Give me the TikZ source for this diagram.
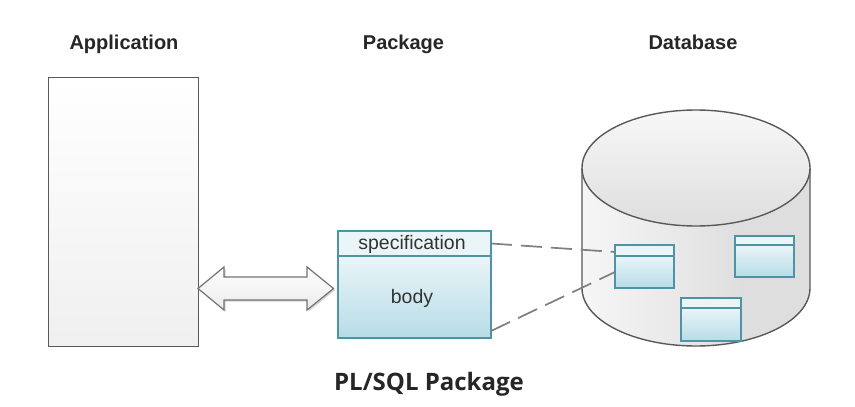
\documentclass[tikz,border=0pt]{standalone}
\usepackage{fontspec}
\setmainfont{Liberation Sans}
\newfontfamily\capfont{Open Sans}
\usetikzlibrary{calc,shadows}
\definecolor{cylA}{HTML}{F6F6F6}
\definecolor{cylB}{HTML}{E6E6E6}
\definecolor{cylC}{HTML}{DEDEDE}
\pgfdeclarehorizontalshading{cylbody}{100bp}{color(0bp)=(cylA); color(25bp)=(cylA); color(50bp)=(cylB); color(60bp)=(cylC); color(100bp)=(cylC)}
\definecolor{boxedge}{HTML}{4F93A6}
\definecolor{boxtop}{HTML}{EAF5F8}
\definecolor{boxlow}{HTML}{B7DCE7}
\definecolor{dashgray}{HTML}{7F7F7F}
\tikzset{
  ttl/.style={font=\fontsize{20}{24}\selectfont\bfseries, text=black!85, inner sep=0pt, anchor=base},
  lbl/.style={font=\fontsize{19.5}{24}\selectfont, text=black!80, inner sep=0pt, anchor=base},
  headbox/.style={draw=boxedge, line width=1.6pt, fill=boxtop, inner sep=0pt, outer sep=0pt, anchor=north west},
  bodybox/.style={draw=boxedge, line width=1.6pt, top color=boxtop, bottom color=boxlow, inner sep=0pt, outer sep=0pt, anchor=north west},
  link/.style={draw=dashgray, line width=1.7pt, dash pattern=on 21pt off 9pt},
  cyledge/.style={draw=black!65, line width=1.4pt}
}
\newcommand{\tablebox}[6]{% name, x, y, w, head h, body h
  \node[bodybox, minimum width=#4pt, minimum height=#6pt] (#1b) at (#2,#3+#5) {};
  \node[headbox, minimum width=#4pt, minimum height=#5pt] (#1h) at (#2,#3) {};
}
\begin{document}
\begin{tikzpicture}[x=1pt,y=-1pt]
\useasboundingbox (0,0) rectangle (855,407);
\fill[white] (0,0) rectangle (855,407);

\node[ttl] at (124,49.5) {Application};
\node[ttl] at (403.5,49.5) {Package};
\node[ttl] at (693,49.5) {Database};

% application
\node[draw=black!65, line width=1pt, top color=white, bottom color=black!6, inner sep=0pt, outer sep=0pt,
  minimum width=150pt, minimum height=269pt, anchor=north west] (app) at (48,77) {};

% cylinder
\shade[shading=cylbody, draw=none] (582,168) -- (582,288) arc[start angle=180,end angle=0,x radius=114,y radius=58] -- (810,168) -- cycle;
\draw[cyledge] (582,168) -- (582,288) arc[start angle=180,end angle=0,x radius=114,y radius=58] -- (810,168);
\path[cyledge, top color=black!3, bottom color=black!13] (696,168) ellipse[x radius=114,y radius=58];

% package
\tablebox{pk}{338}{231}{153}{25}{82}
\node[lbl] at (412,249.5) {specification};
\node[lbl] at (412,303.5) {body};

% small tables
\tablebox{ta}{615}{245}{59}{11}{32}
\tablebox{tb}{735}{236}{59}{9}{32}
\tablebox{tc}{681}{298}{60}{10}{33}

% double arrow
\path[draw=black!55, line width=1.2pt, top color=white, bottom color=black!8,
  general shadow={shadow xshift=1.5pt, shadow yshift=-1.5pt, fill=black!18}]
  (198,288.5) -- (224,267) -- (224,277) -- (307,277) -- (307,267) -- (333.5,288.5)
  -- (307,310) -- (307,300) -- (224,300) -- (224,310) -- cycle;

% connectors
\coordinate (upa) at (pkh.east);
\coordinate (lowa) at ($(pkb.south east)+(0,-7)$);
\coordinate (upb) at ($(tah.south west)+(0,-4)$);
\coordinate (lowb) at (tab.west);
\draw[link] (upa) -- (upb);
\draw[link] (lowa) -- (lowb);

\node[font=\capfont\fontsize{24}{28}\selectfont\bfseries, text=black!85, inner sep=0pt] at (429,384) {PL/SQL Package};
\end{tikzpicture}
\end{document}
